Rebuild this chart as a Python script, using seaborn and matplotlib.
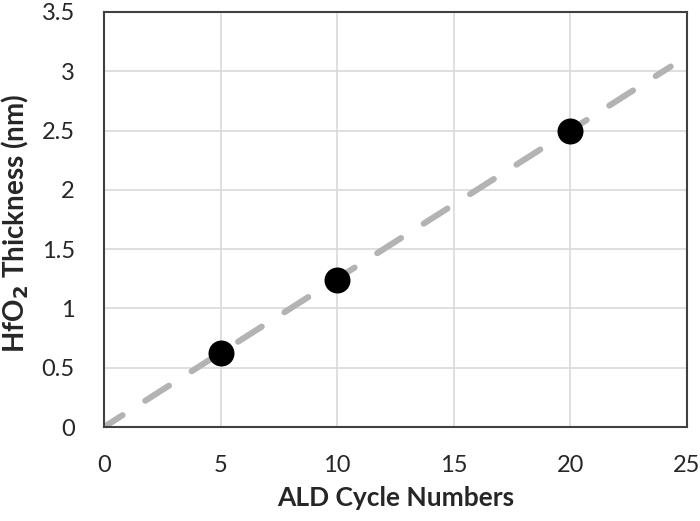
import numpy as np
import pandas as pd
import matplotlib.pyplot as plt
import seaborn as sb

# measured points
cycles = [5, 10, 20]
thickness = [0.62, 1.24, 2.5]

# linear fit line (through origin)
fit_x = [0, 24.3]
fit_y = [0, 3.04]

x_ticks = [0, 5, 10, 15, 20, 25]
y_ticks = [0, 0.5, 1, 1.5, 2, 2.5, 3, 3.5]
y_labels = ['0', '0.5', '1', '1.5', '2', '2.5', '3', '3.5']

sb.set_style('white')
plt.rcParams['font.family'] = ['Lato', 'DejaVu Sans']

points = pd.DataFrame({'cycles': cycles, 'thickness': thickness})
fit = pd.DataFrame({'x': fit_x, 'y': fit_y})

fig = plt.figure(figsize=(7, 5.21), dpi=100)
ax = fig.add_axes([104/700, 1 - 427/521, (687-104)/700, (427-12)/521])

ax.grid(True, color='#d9d9d9', linewidth=1.2)
ax.set_axisbelow(True)

sb.lineplot(data=fit, x='x', y='y', ax=ax, color='#b3b3b3', linewidth=4.4,
            dashes=False, zorder=2)
fit_line = ax.lines[-1]
fit_line.set_linestyle((1.0, (4.6, 4.4)))
fit_line.set_dash_capstyle('round')

sb.scatterplot(data=points, x='cycles', y='thickness', ax=ax, color='black',
               s=300, edgecolor='black', zorder=3)

ax.set_xlim(0, 25)
ax.set_ylim(0, 3.5)
ax.set_xticks(x_ticks)
ax.set_yticks(y_ticks)
ax.set_yticklabels(y_labels)
ax.tick_params(labelsize=17, length=0)
ax.tick_params(axis='x', pad=20)
ax.tick_params(axis='y', pad=21)

for s in ax.spines.values():
    s.set_color('#404040')
    s.set_linewidth(1.5)

ax.set_xlabel('ALD Cycle Numbers', fontsize=19, fontweight='bold', va='center')
ax.set_ylabel('HfO$_\\mathbf{2}$ Thickness (nm)', fontsize=20, fontweight='bold', va='center')
ax.xaxis.set_label_coords(0.5, -0.171)
ax.yaxis.set_label_coords(-0.153, 0.49)

plt.savefig('out.png', dpi=100)
